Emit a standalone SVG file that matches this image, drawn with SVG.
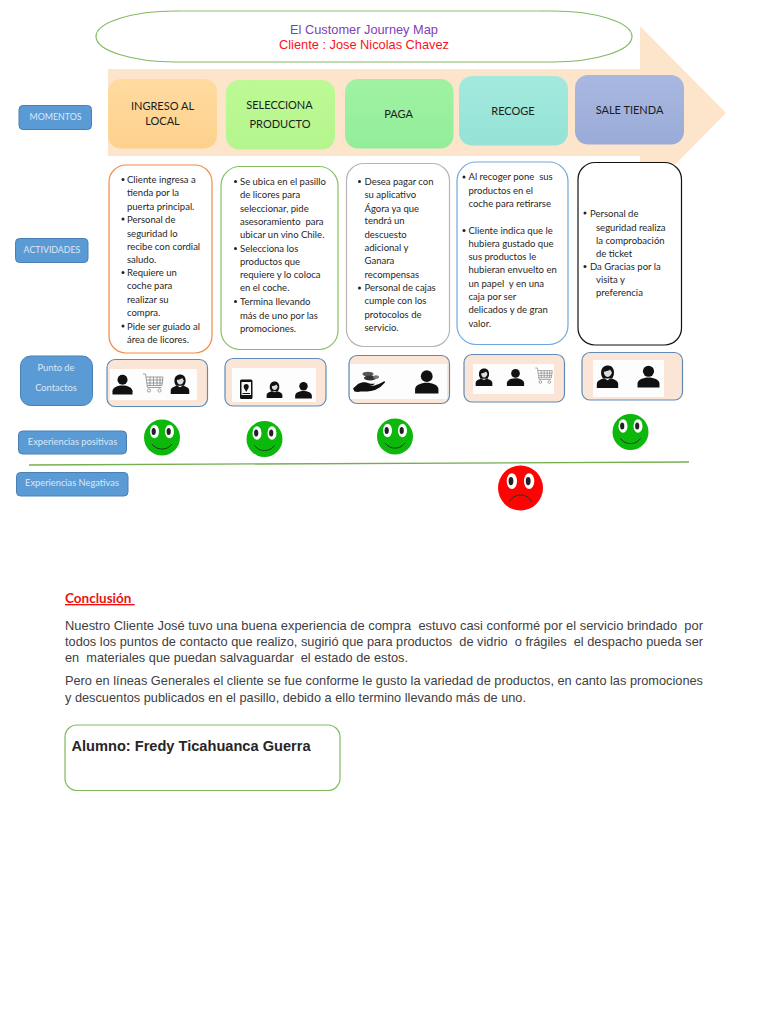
<svg xmlns="http://www.w3.org/2000/svg" width="768" height="1024" viewBox="0 0 768 1024">
<style>
text{font-family:"Lato","Liberation Sans",sans-serif;white-space:pre}
.t{font-size:9.5px;fill:#262626}
.lab{font-size:9.3px;fill:#dbe8f5;text-anchor:middle}
.cap{font-size:8.8px}
.lb{fill:#5b9bd5;stroke:#4a80b4;stroke-width:1}
.m{font-size:11px;fill:#1c1c1c;text-anchor:middle}
.act{fill:#fff;stroke-width:1.2}
.cb{fill:#fbe5d6;stroke:#5f8ab8;stroke-width:1.2}
.w{fill:#fdfdfd}
.a{font-family:"Liberation Sans",Arial,sans-serif;font-size:12.6px;fill:#404040}
.ic{fill:#111}
.cart{fill:none;stroke:#777;stroke-width:.7}
.eye{fill:#fff}
.pu{fill:#222}
.mo{fill:none;stroke:#1b3a1b;stroke-width:1}
</style>
<defs>
<linearGradient id="g1" x1="0" y1="0" x2="0" y2="1"><stop offset="0" stop-color="#ffdba0"/><stop offset="1" stop-color="#fdd18c"/></linearGradient>
<linearGradient id="g2" x1="0" y1="0" x2="0" y2="1"><stop offset="0" stop-color="#bdfa95"/><stop offset="1" stop-color="#b5f58d"/></linearGradient>
<linearGradient id="g3" x1="0" y1="0" x2="0" y2="1"><stop offset="0" stop-color="#a0f2a2"/><stop offset="1" stop-color="#92ee9a"/></linearGradient>
<linearGradient id="g4" x1="0" y1="0" x2="0" y2="1"><stop offset="0" stop-color="#a4e9de"/><stop offset="1" stop-color="#94e3d6"/></linearGradient>
<linearGradient id="g5" x1="0" y1="0" x2="0" y2="1"><stop offset="0" stop-color="#a9b8e0"/><stop offset="1" stop-color="#9aabd8"/></linearGradient>
<symbol id="man" viewBox="0 0 22 22" overflow="visible">
<circle cx="11" cy="6" r="5.3" class="ic"/>
<path class="ic" d="M0.5 21.5V18C0.5 14 6 12 11 12S21.5 14 21.5 18V21.5Z"/>
</symbol>
<symbol id="woman" viewBox="0 0 22 22" overflow="visible">
<path class="ic" d="M5 9C4 2 8 0 11.500 0S18 3 17 9L15.500 12.500H6.500Z"/>
<path fill="#ddd" d="M7.500 6C9 6 12 5 13.500 3.800C14 5 15 6 15.200 6.500C15 9 13 11 11.300 11C9 11 7.500 8.500 7.500 6Z"/>
<path class="ic" d="M0.800 21.500V17.500C1 14.500 5 13 8 12.500L11 14L14 12.500C17 13 21 14.500 21.200 17.500V21.500Z"/>
</symbol>
<symbol id="cart" viewBox="0 0 20 20" overflow="visible">
<path class="cart" d="M0 0H2.500L4.500 13.500H18.500M3 3H20L19 11.500H4.200M7 3V11.500M10.500 3V11.500M14 3V11.500M17 3V11.500M3.500 6H20M3.800 9H19.500"/>
<circle class="cart" cx="6" cy="16.500" r="1.600"/><circle class="cart" cx="16.500" cy="16.500" r="1.600"/>
</symbol>
<g id="eyes">
<ellipse class="eye" cx="-7.500" cy="-6" rx="4.500" ry="6.800"/><ellipse class="eye" cx="7.500" cy="-6" rx="4.500" ry="6.800"/>
<ellipse class="pu" cx="-8.300" cy="-6" rx="2.100" ry="3.600"/><ellipse class="pu" cx="6.700" cy="-6" rx="2.100" ry="3.600"/>
</g>
<g id="smile">
<circle r="18" fill="#0db80d"/>
<use href="#eyes"/>
<path class="mo" d="M-10 6.500C-6 11.500-2 11.500 0 11.500S6 11.500 10 6.500"/>
</g>
</defs>
<rect width="768" height="1024" fill="#fff"/>

<g id="arrow"><path fill="#fde5cb" d="M108 69H640V26L726 113L640 200V156H108Z"/></g>

<g id="title">
<rect x="96" y="11" width="536" height="51" rx="80" ry="25.500" fill="#fff" stroke="#82ba5f" stroke-width="1.200"/>
<path d="M180 11H540" stroke="#c8e2b8" stroke-width="1.300" fill="none"/>
<text x="364" y="34" text-anchor="middle" style="font-family:'Liberation Sans',Arial,sans-serif;font-size:12.800px;fill:#7d3fb5">El Customer Journey Map</text>
<text x="364" y="49" text-anchor="middle" style="font-family:'Liberation Sans',Arial,sans-serif;font-size:12.800px;fill:#f5141e">Cliente : Jose Nicolas Chavez</text>
</g>

<g id="momentos"><rect class="lb" x="19" y="105.500" width="72.500" height="24" rx="4"/><text class="lab cap" x="55.500" y="119.500">MOMENTOS</text></g>
<g id="actividades"><rect class="lb" x="15.500" y="238.500" width="72.500" height="24" rx="4"/><text class="lab cap" x="52" y="253">ACTIVIDADES</text></g>
<g id="punto"><rect class="lb" x="20.500" y="356" width="72" height="49.500" rx="10"/><text class="lab" x="56" y="371">Punto de</text><text class="lab" x="56" y="391">Contactos</text></g>
<g id="positivas"><rect class="lb" x="18.500" y="431" width="108" height="23" rx="4"/><text class="lab" x="72.500" y="444.500">Experiencias positivas</text></g>
<g id="negativas"><rect class="lb" x="16.500" y="472.500" width="111.500" height="23.500" rx="4"/><text class="lab" x="72" y="486">Experiencias Negativas</text></g>

<g id="m1"><rect x="108" y="79" width="109" height="69.500" rx="13" fill="url(#g1)"/><text class="m" x="162.500" y="110">INGRESO AL</text><text class="m" x="162.500" y="124.500">LOCAL</text></g>
<g id="m2"><rect x="226" y="80" width="109" height="69.500" rx="13" fill="url(#g2)"/><text class="m" x="279.500" y="109">SELECCIONA</text><text class="m" x="280" y="127.500">PRODUCTO</text></g>
<g id="m3"><rect x="345" y="79" width="108.500" height="69.500" rx="13" fill="url(#g3)"/><text class="m" x="398.500" y="117.500">PAGA</text></g>
<g id="m4"><rect x="459" y="76" width="109" height="69.500" rx="13" fill="url(#g4)"/><text class="m" x="513" y="114.500">RECOGE</text></g>
<g id="m5"><rect x="575" y="75" width="109" height="69.500" rx="13" fill="url(#g5)"/><text class="m" x="629.500" y="113.500">SALE TIENDA</text></g>

<g id="a1"><rect class="act" x="109" y="165" width="103" height="188" rx="17" stroke="#f58a47"/>
<circle cx="123" cy="179.500" r="1.500" fill="#222"/><text class="t" x="127" y="183">Cliente ingresa a</text>
<text class="t" x="127" y="196">tienda por la</text>
<text class="t" x="127" y="209.500">puerta principal.</text>
<circle cx="123" cy="219" r="1.500" fill="#222"/><text class="t" x="127" y="222.500">Personal de</text>
<text class="t" x="127" y="236.500">seguridad lo</text>
<text class="t" x="127" y="249.500">recibe con cordial</text>
<text class="t" x="127" y="263">saludo.</text>
<circle cx="123" cy="272.500" r="1.500" fill="#222"/><text class="t" x="127" y="276">Requiere un</text>
<text class="t" x="127" y="289">coche para</text>
<text class="t" x="127" y="302.500">realizar su</text>
<text class="t" x="127" y="316">compra.</text>
<circle cx="123" cy="326" r="1.500" fill="#222"/><text class="t" x="127" y="329.500">Pide ser guiado al</text>
<text class="t" x="127" y="343">área de licores.</text>
</g>

<g id="a2"><rect class="act" x="221" y="166.500" width="117" height="183" rx="19" stroke="#86c062"/>
<circle cx="235.500" cy="181.500" r="1.500" fill="#222"/><text class="t" x="240" y="185">Se ubica en el pasillo</text>
<text class="t" x="240" y="198">de licores para</text>
<text class="t" x="240" y="211.500">seleccionar, pide</text>
<text class="t" x="240" y="224.500">asesoramiento  para</text>
<text class="t" x="240" y="237.500">ubicar un vino Chile.</text>
<circle cx="235.500" cy="248.500" r="1.500" fill="#222"/><text class="t" x="240" y="252">Selecciona los</text>
<text class="t" x="240" y="265">productos que</text>
<text class="t" x="240" y="278">requiere y lo coloca</text>
<text class="t" x="240" y="291">en el coche.</text>
<circle cx="235.500" cy="301.500" r="1.500" fill="#222"/><text class="t" x="240" y="304.500">Termina llevando</text>
<text class="t" x="240" y="318.500">más de uno por las</text>
<text class="t" x="240" y="332">promociones.</text>
</g>

<g id="a3"><rect class="act" x="346.500" y="163.500" width="103" height="183" rx="17" stroke="#b5b5b5"/>
<circle cx="359.500" cy="181.500" r="1.500" fill="#222"/><text class="t" x="364.500" y="185">Desea pagar con</text>
<text class="t" x="364.500" y="198">su aplicativo</text>
<text class="t" x="364.500" y="211.500">Ágora ya que</text>
<text class="t" x="364.500" y="224">tendrá un</text>
<text class="t" x="364.500" y="237.500">descuesto</text>
<text class="t" x="364.500" y="251">adicional y</text>
<text class="t" x="364.500" y="264">Ganara</text>
<text class="t" x="364.500" y="278">recompensas</text>
<circle cx="359.500" cy="288" r="1.500" fill="#222"/><text class="t" x="364.500" y="291">Personal de cajas</text>
<text class="t" x="364.500" y="304">cumple con los</text>
<text class="t" x="364.500" y="317.500">protocolos de</text>
<text class="t" x="364.500" y="330.500">servicio.</text>
</g>

<g id="a4"><rect class="act" x="457" y="162" width="111" height="182.500" rx="19" stroke="#6ea8e0"/>
<circle cx="464" cy="177" r="1.500" fill="#222"/><text class="t" x="468.500" y="180">Al recoger pone  sus</text>
<text class="t" x="468.500" y="194">productos en el</text>
<text class="t" x="468.500" y="207">coche para retirarse</text>
<circle cx="464" cy="230.500" r="1.500" fill="#222"/><text class="t" x="468.500" y="233.500">Cliente indica que le</text>
<text class="t" x="468.500" y="247">hubiera gustado que</text>
<text class="t" x="468.500" y="260">sus productos le</text>
<text class="t" x="468.500" y="273">hubieran envuelto en</text>
<text class="t" x="468.500" y="287">un papel  y en una</text>
<text class="t" x="468.500" y="300">caja por ser</text>
<text class="t" x="468.500" y="313">delicados y de gran</text>
<text class="t" x="468.500" y="326.500">valor.</text>
</g>

<g id="a5"><rect class="act" x="578" y="162.500" width="103.500" height="182.500" rx="17" stroke="#111"/>
<circle cx="585" cy="213" r="1.500" fill="#222"/><text class="t" x="590" y="216.500">Personal de</text>
<text class="t" x="596" y="230.500">seguridad realiza</text>
<text class="t" x="596" y="243.500">la comprobación</text>
<text class="t" x="596" y="256.500">de ticket</text>
<circle cx="585" cy="266.500" r="1.500" fill="#222"/><text class="t" x="590" y="270">Da Gracias por la</text>
<text class="t" x="596" y="283">visita y</text>
<text class="t" x="596" y="296">preferencia</text>
</g>

<g id="c1"><rect class="cb" x="107" y="359.500" width="100.500" height="47" rx="8"/><rect class="w" x="110" y="369" width="87" height="31"/>
<use href="#man" x="112" y="374" width="21" height="21"/><use href="#cart" x="143" y="374" width="20" height="20"/><use href="#woman" x="170" y="374" width="20" height="21"/></g>
<g id="c2"><rect class="cb" x="225" y="358.500" width="101" height="47.500" rx="8"/><rect class="w" x="232" y="368" width="84" height="34"/>
<g id="phone"><rect x="240" y="379.500" width="12.500" height="19.500" rx="1.500" fill="#111"/><rect x="241.500" y="382" width="9.500" height="13" fill="#f5f5f5"/><circle cx="246.200" cy="386.500" r="2.500" fill="#111"/><path d="M244 388L246.200 392L248.400 388Z" fill="#111"/><path d="M242.500 393.500H250" stroke="#111" stroke-width="1"/></g>
<use href="#woman" x="266" y="381" width="17" height="18"/><use href="#man" x="294.500" y="381.500" width="18" height="17.500"/></g>
<g id="c3"><rect class="cb" x="349" y="355.500" width="100.500" height="48" rx="8"/><rect class="w" x="350" y="364" width="97" height="35"/>
<g id="hand"><ellipse cx="368" cy="374" rx="5.500" ry="2.300" fill="#555"/><ellipse cx="370" cy="378" rx="6" ry="2.500" fill="#333"/><ellipse cx="376" cy="377" rx="3" ry="1.800" fill="#777"/>
<path fill="#111" d="M353 388.500L358 384C362 381.500 366 382 368 383C371 384 373 384 375 383.500C374 385 372 386 369 386C372 386.500 378 385 384.500 381L385 382.500C381 387 377 390 371 391C366 392 361 391 358 392L354.500 391.500Z"/></g>
<use href="#man" x="414" y="369.500" width="25.500" height="24.500"/></g>
<g id="c4"><rect class="cb" x="464" y="354.500" width="100.500" height="47.500" rx="8"/><rect class="w" x="473" y="364" width="81" height="30"/>
<use href="#woman" x="475" y="368.500" width="18" height="18"/><use href="#man" x="506" y="368.500" width="19" height="18"/><use href="#cart" x="534.500" y="368" width="18.500" height="17"/></g>
<g id="c5"><rect class="cb" x="582" y="352.500" width="100.500" height="47.500" rx="8"/><rect class="w" x="593" y="360" width="71" height="37"/>
<use href="#woman" x="596" y="365" width="23" height="24"/><use href="#man" x="636" y="365" width="25" height="23"/></g>

<g id="connectors"><path d="M29 465L689 462" stroke="#75ae50" stroke-width="1.300" fill="none"/></g>

<g id="f1" transform="translate(162 437.500)"><use href="#smile"/></g>
<g id="f2" transform="translate(264.500 439)"><use href="#smile"/></g>
<g id="f3" transform="translate(395 436.500)"><use href="#smile"/></g>
<g id="f4" transform="translate(630.500 432)"><use href="#smile"/></g>
<g id="f5" transform="translate(520.500 488)"><circle r="22.500" fill="#fd0404"/><g transform="scale(1.150)"><use href="#eyes"/></g><path class="mo" d="M-11 13.500C-8 8-3 7 0 7S8 8 11 13.500" stroke="#400"/></g>

<g id="conclusion">
<text x="65" y="603" style="font-family:Lato,'Liberation Sans',sans-serif;font-size:13.500px;font-weight:700;fill:#f01010;text-decoration:underline">Conclusión </text>
<text class="a" x="65" y="630" textLength="638" lengthAdjust="spacingAndGlyphs">Nuestro Cliente José tuvo una buena experiencia de compra  estuvo casi conformé por el servicio brindado  por</text>
<text class="a" x="65" y="646" textLength="638" lengthAdjust="spacingAndGlyphs">todos los puntos de contacto que realizo, sugirió que para productos  de vidrio  o frágiles  el despacho pueda ser</text>
<text class="a" x="65" y="662" textLength="343" lengthAdjust="spacingAndGlyphs">en  materiales que puedan salvaguardar  el estado de estos.</text>
<text class="a" x="65" y="685" textLength="638" lengthAdjust="spacingAndGlyphs">Pero en líneas Generales el cliente se fue conforme le gusto la variedad de productos, en canto las promociones</text>
<text class="a" x="65" y="702" textLength="461" lengthAdjust="spacingAndGlyphs">y descuentos publicados en el pasillo, debido a ello termino llevando más de uno.</text>
</g>
<g id="alumno"><rect x="65" y="725" width="275" height="65.500" rx="12" fill="#fff" stroke="#80ba5c" stroke-width="1.200"/>
<text x="71.500" y="751" textLength="239" lengthAdjust="spacingAndGlyphs" style="font-family:'Liberation Sans',Arial,sans-serif;font-size:14px;font-weight:700;fill:#262626">Alumno: Fredy Ticahuanca Guerra</text></g>
</svg>
